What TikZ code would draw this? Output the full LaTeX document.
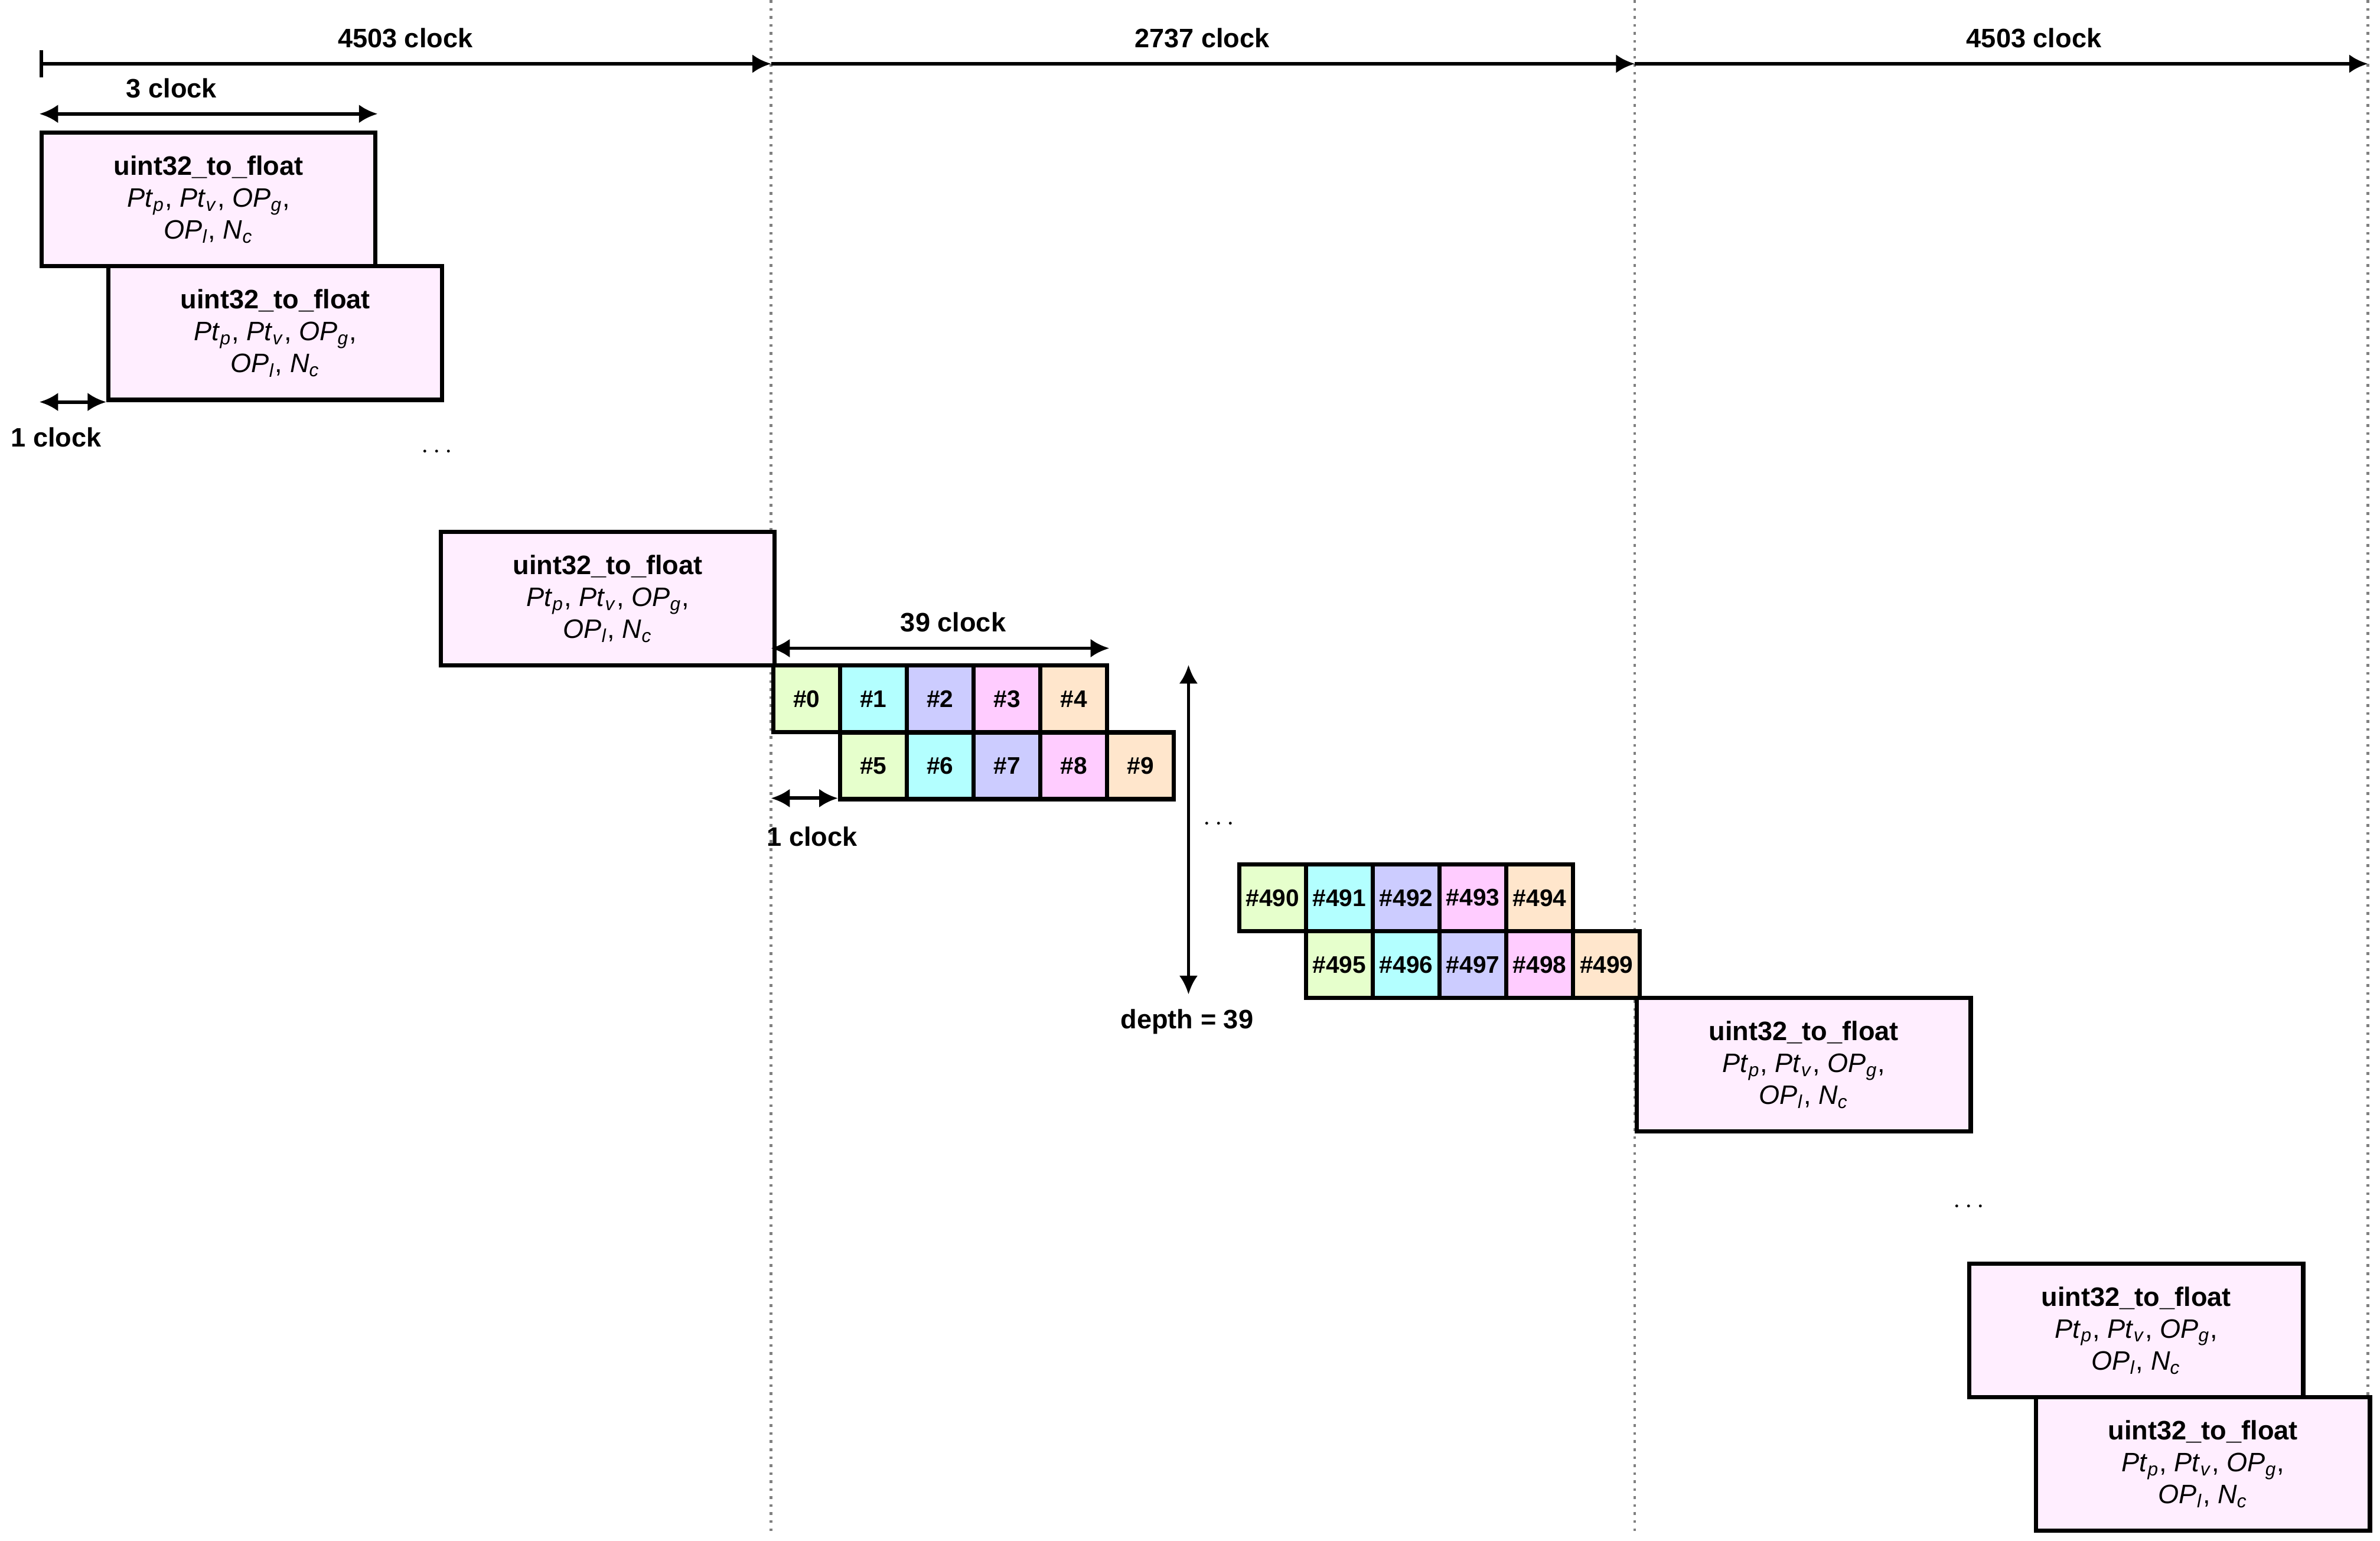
\documentclass[tikz,border=0pt]{standalone}
\usepackage{fontspec}
\setmainfont{Liberation Sans}
\usetikzlibrary{arrows.meta}
\definecolor{cA}{HTML}{E6FFCC}
\definecolor{cB}{HTML}{B3FFFF}
\definecolor{cC}{HTML}{CCCCFF}
\definecolor{cD}{HTML}{FFCCFF}
\definecolor{cE}{HTML}{FFE6CC}
\definecolor{boxpink}{HTML}{FFEEFF}
\newcommand{\sbi}[2]{\textit{#1}\textsubscript{\textit{#2}}}
\newcommand{\convtext}{\textbf{uint32\_to\_float}\\\sbi{Pt}{p}, \sbi{Pt}{v}, \sbi{OP}{g},\\\sbi{OP}{l}, \sbi{N}{c}}
\tikzset{
  conv/.style={draw=black, fill=boxpink, line width=1.6pt, anchor=north west,
    minimum width=4.4cm, minimum height=1.76cm, align=center, inner sep=0pt,
    font=\fontsize{10}{12}\selectfont},
  cell/.style={draw=black, line width=1.6pt, anchor=north west, minimum width=0.88cm,
    minimum height=0.88cm, inner sep=0pt, font=\bfseries\fontsize{9}{10}\selectfont},
  span/.style={{Latex[length=7pt,width=7pt]}-{Latex[length=7pt,width=7pt]}, line width=1.3pt},
  lbl/.style={font=\bfseries\fontsize{10}{12}\selectfont},
  sep/.style={dotted, line width=1pt, gray},
}
\begin{document}
\begin{tikzpicture}[x=0.02cm,y=-0.02cm]
  \useasboundingbox (0,0) rectangle (1568,1015);
  % time axis
  \coordinate (t0) at (26,42);
  \coordinate (t1) at (508,42);
  \coordinate (t2) at (1077,42);
  \coordinate (t3) at (1560,42);
  \draw[sep] (508,0) -- (508,1012);
  \draw[sep] (1077,0) -- (1077,1012);
  \draw[sep] (1560,0) -- (1560,1012);
  \draw[line width=1.3pt, {Bar[width=10pt]}-{Latex[length=7pt,width=7pt]}] (t0) -- (t1);
  \draw[line width=1.3pt, -{Latex[length=7pt,width=7pt]}] (t1) -- (t2);
  \draw[line width=1.3pt, -{Latex[length=7pt,width=7pt]}] (t2) -- (t3);
  \node[lbl] (ax1) at (267,25) {4503 clock};
  \node[lbl] (ax2) at (792,25) {2737 clock};
  \node[lbl] (ax3) at (1340,25) {4503 clock};
  % conversion blocks
  \node[conv] (c1) at (26,86) {\convtext};
  \node[conv] (c2) at (70,174) {\convtext};
  \node[conv] (c3) at (289,349) {\convtext};
  \node[conv] (c4) at (1077,656) {\convtext};
  \node[conv] (c5) at (1296,831) {\convtext};
  \node[conv] (c6) at (1340,919) {\convtext};
  \draw[span] (c1.north west) ++(0,-11) coordinate (s1) -- (c1.north east |- s1);
  \node[lbl] (l3) at (113,58) {3 clock};
  \draw[span] (c1.south west |- c2.south west) -- (c2.south west);
  \node[lbl] (l1a) at (37,288) {1 clock};
  \node[lbl] (d1) at (288,298) {$\cdots$};
  % pipeline cells
  \foreach \i/\c in {0/cA,1/cB,2/cC,3/cD,4/cE} {
    \node[cell, fill=\c] (p\i) at ({508+44*\i},437) {\#\i};
    \pgfmathtruncatemacro{\j}{\i+5}
    \node[cell, fill=\c] (p\j) at ({552+44*\i},481) {\#\j};
    \pgfmathtruncatemacro{\k}{\i+490}
    \node[cell, fill=\c] (p\k) at ({815+44*\i},568) {\#\k};
    \pgfmathtruncatemacro{\m}{\i+495}
    \node[cell, fill=\c] (p\m) at ({859+44*\i},612) {\#\m};
  }
  \draw[span] (p0.north west) ++(0,-10) coordinate (s2) -- (p4.north east |- s2);
  \node[lbl] (l39) at (628,410) {39 clock};
  \draw[span] (p0.west |- p5.south west) ++(0,-2) coordinate (s3) -- (p5.south west |- s3);
  \node[lbl] (l1b) at (535,551) {1 clock};
  \coordinate (dt) at (783,438);
  \coordinate (db) at (783,655);
  \draw[span] (dt) -- (db);
  \node[lbl] (ld) at (782,673) {depth = 39};
  \node[lbl] (d2) at (803,543) {$\cdots$};
  \node[lbl] (d3) at (1297,795) {$\cdots$};
\end{tikzpicture}
\end{document}
